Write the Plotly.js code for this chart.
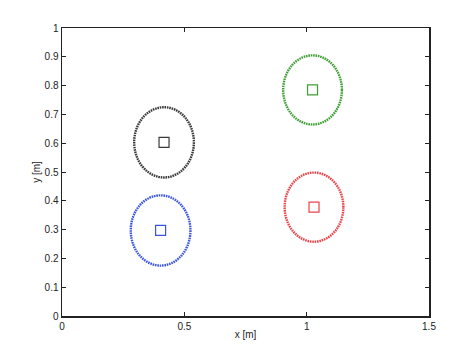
<!DOCTYPE html>
<html>
<head>
<meta charset="utf-8">
<script src="https://cdn.plot.ly/plotly-3.0.1.min.js"></script>
<style>html,body{margin:0;padding:0;background:#fff;}#chart{width:474px;height:355px;}</style>
</head>
<body>
<div id="chart"></div>
<script>
// Data
const names   = ['black', 'green', 'blue', 'red'];
const centerX = [0.417, 1.024, 0.403, 1.030];
const centerY = [0.603, 0.785, 0.297, 0.378];
const radius  = [0.122, 0.120, 0.122, 0.120];
const colors  = ['#3a3a3a', '#3f9f35', '#3a55e0', '#e8444a'];
const xTicks  = [0, 0.5, 1, 1.5];
const yTicks  = [0, 0.1, 0.2, 0.3, 0.4, 0.5, 0.6, 0.7, 0.8, 0.9, 1];

const traces = names.map((n, i) => ({
  type: 'scatter', mode: 'markers', name: n,
  x: [centerX[i]], y: [centerY[i]],
  marker: {symbol: 'square-open', size: 10, color: colors[i], line: {width: 1.2, color: colors[i]}},
  showlegend: false, hoverinfo: 'skip'
}));

const shapes = names.map((n, i) => ({
  type: 'circle', xref: 'x', yref: 'y',
  x0: centerX[i] - radius[i], x1: centerX[i] + radius[i],
  y0: centerY[i] - radius[i], y1: centerY[i] + radius[i],
  line: {color: colors[i], width: 2.4, dash: '1.6px,0.8px'}
}));

const axisCommon = {
  showgrid: false, zeroline: false, showline: true, mirror: 'ticks',
  linecolor: '#222', linewidth: 1.5, ticks: 'inside', ticklen: 4,
  tickcolor: '#222', tickwidth: 1, automargin: false,
  tickfont: {family: 'Liberation Sans, Arial, sans-serif', size: 10, color: '#222'}
};

const layout = {
  width: 474, height: 355,
  margin: {l: 62, r: 45, t: 28, b: 39},
  paper_bgcolor: '#fff', plot_bgcolor: '#fff',
  xaxis: Object.assign({}, axisCommon, {
    range: [0, 1.5], tickvals: xTicks, ticktext: xTicks.map(String),
    title: {text: 'x [m]', standoff: 0, font: {family: 'Liberation Sans, Arial, sans-serif', size: 10, color: '#222'}}
  }),
  yaxis: Object.assign({}, axisCommon, {
    range: [0, 1], tickvals: yTicks, ticktext: yTicks.map(String),
    title: {text: 'y [m]', standoff: 2, font: {family: 'Liberation Sans, Arial, sans-serif', size: 10, color: '#222'}}
  }),
  shapes: shapes,
  showlegend: false
};

Plotly.newPlot('chart', traces, layout, {displayModeBar: false, staticPlot: true});
</script>
</body>
</html>
